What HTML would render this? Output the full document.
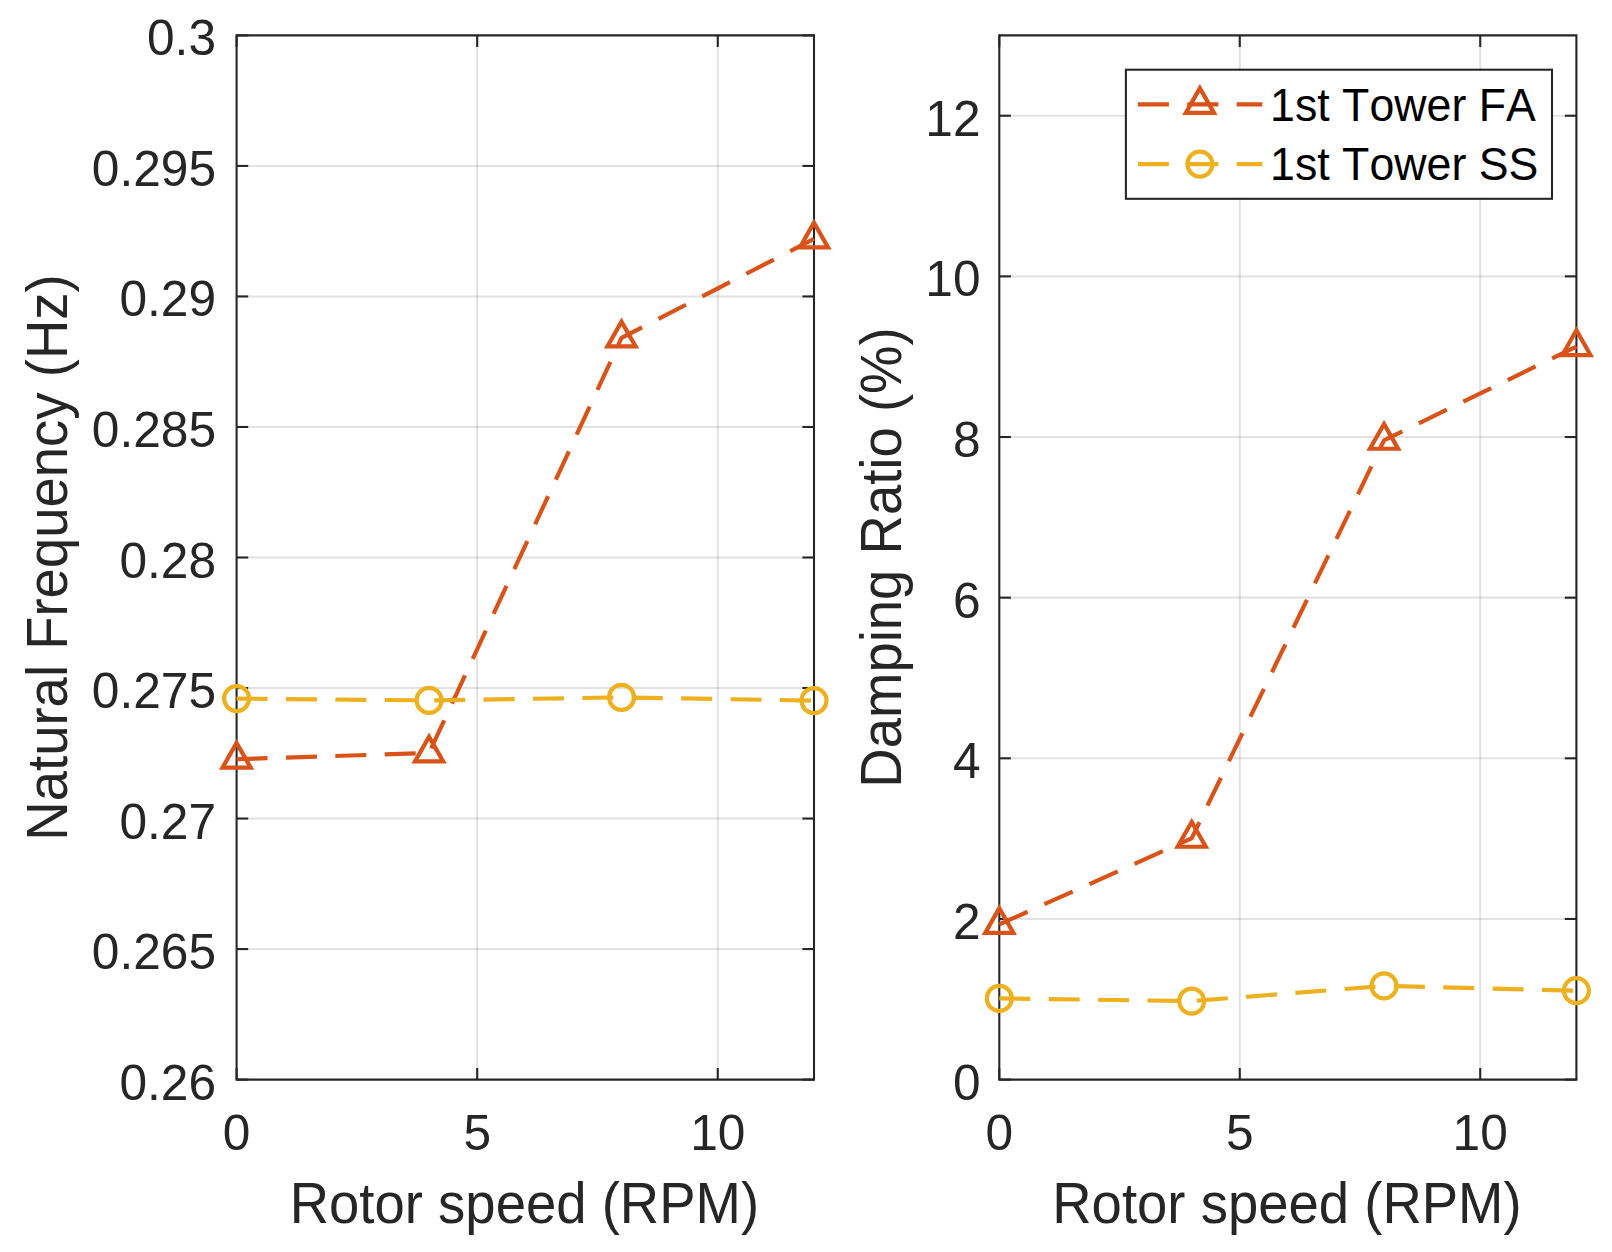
<!DOCTYPE html>
<html lang="en">
<head>
<meta charset="utf-8">
<title>Tower modes vs rotor speed</title>
<style>
html,body{margin:0;padding:0;background:#fff;}
body{width:1612px;height:1252px;overflow:hidden;}
svg{display:block;}
text{font-family:"Liberation Sans", Arial, Helvetica, sans-serif;font-kerning:none;}
.tk{font-size:50px;fill:#262626;}
.lb{font-size:55px;fill:#262626;}
.lg{font-size:45px;fill:#000;}
</style>
</head>
<body>
<svg width="1612" height="1252" viewBox="0 0 1612 1252">
<rect x="0" y="0" width="1612" height="1252" fill="#ffffff"/>
<g id="axes1">
<g stroke="#262626" stroke-opacity="0.135" stroke-width="2.08" fill="none">
<line x1="477.18" y1="35.4" x2="477.18" y2="1079.6"/>
<line x1="717.77" y1="35.4" x2="717.77" y2="1079.6"/>
<line x1="236.6" y1="949.07" x2="814" y2="949.07"/>
<line x1="236.6" y1="818.55" x2="814" y2="818.55"/>
<line x1="236.6" y1="688.02" x2="814" y2="688.02"/>
<line x1="236.6" y1="557.5" x2="814" y2="557.5"/>
<line x1="236.6" y1="426.98" x2="814" y2="426.98"/>
<line x1="236.6" y1="296.45" x2="814" y2="296.45"/>
<line x1="236.6" y1="165.93" x2="814" y2="165.93"/>
</g>
<g stroke="#262626" stroke-width="2.08" fill="none">
<path d="M236.6 35.4 H814 V1079.6"/>
<line x1="236.6" y1="35.4" x2="236.6" y2="47"/>
<line x1="477.18" y1="35.4" x2="477.18" y2="47"/>
<line x1="717.77" y1="35.4" x2="717.77" y2="47"/>
<line x1="814" y1="1079.6" x2="802.4" y2="1079.6"/>
<line x1="814" y1="949.07" x2="802.4" y2="949.07"/>
<line x1="814" y1="818.55" x2="802.4" y2="818.55"/>
<line x1="814" y1="688.02" x2="802.4" y2="688.02"/>
<line x1="814" y1="557.5" x2="802.4" y2="557.5"/>
<line x1="814" y1="426.98" x2="802.4" y2="426.98"/>
<line x1="814" y1="296.45" x2="802.4" y2="296.45"/>
<line x1="814" y1="165.93" x2="802.4" y2="165.93"/>
<line x1="814" y1="35.4" x2="802.4" y2="35.4"/>
</g>
<g stroke="#262626" stroke-width="2.08" fill="none">
<path d="M236.6 35.4 V1079.6 H814" stroke-linecap="square"/>
<line x1="236.6" y1="1079.6" x2="236.6" y2="1068"/>
<line x1="477.18" y1="1079.6" x2="477.18" y2="1068"/>
<line x1="717.77" y1="1079.6" x2="717.77" y2="1068"/>
<line x1="236.6" y1="1079.6" x2="248.2" y2="1079.6"/>
<line x1="236.6" y1="949.07" x2="248.2" y2="949.07"/>
<line x1="236.6" y1="818.55" x2="248.2" y2="818.55"/>
<line x1="236.6" y1="688.02" x2="248.2" y2="688.02"/>
<line x1="236.6" y1="557.5" x2="248.2" y2="557.5"/>
<line x1="236.6" y1="426.98" x2="248.2" y2="426.98"/>
<line x1="236.6" y1="296.45" x2="248.2" y2="296.45"/>
<line x1="236.6" y1="165.93" x2="248.2" y2="165.93"/>
<line x1="236.6" y1="35.4" x2="248.2" y2="35.4"/>
</g>
<polyline points="236.6,759.2 429.07,753 621.53,337.9 814,238.9" fill="none" stroke="#D95319" stroke-width="4.17" stroke-dasharray="31 18.4" stroke-linejoin="round"/>
<polyline points="236.6,698.6 429.07,700.4 621.53,697.4 814,700.6" fill="none" stroke="#EDB120" stroke-width="4.17" stroke-dasharray="31 18.4" stroke-linejoin="round"/>
<g fill="none" stroke="#D95319" stroke-width="4.17" stroke-linejoin="miter" stroke-miterlimit="10">
<path d="M236.6 742.9 L222.5 767.65 L250.7 767.65 Z"/>
<path d="M429.07 736.7 L414.97 761.45 L443.17 761.45 Z"/>
<path d="M621.53 321.6 L607.43 346.35 L635.63 346.35 Z"/>
<path d="M814 222.6 L799.9 247.35 L828.1 247.35 Z"/>
</g>
<g fill="none" stroke="#EDB120" stroke-width="4.17">
<circle cx="236.6" cy="698.6" r="12.5"/>
<circle cx="429.07" cy="700.4" r="12.5"/>
<circle cx="621.53" cy="697.4" r="12.5"/>
<circle cx="814" cy="700.6" r="12.5"/>
</g>
<text class="tk" text-anchor="end" transform="translate(216 1099.6) scale(0.993 1.012)">0.26</text>
<text class="tk" text-anchor="end" transform="translate(216 969.07) scale(0.993 1.012)">0.265</text>
<text class="tk" text-anchor="end" transform="translate(216 838.55) scale(0.993 1.012)">0.27</text>
<text class="tk" text-anchor="end" transform="translate(216 708.02) scale(0.993 1.012)">0.275</text>
<text class="tk" text-anchor="end" transform="translate(216 577.5) scale(0.993 1.012)">0.28</text>
<text class="tk" text-anchor="end" transform="translate(216 446.98) scale(0.993 1.012)">0.285</text>
<text class="tk" text-anchor="end" transform="translate(216 316.45) scale(0.993 1.012)">0.29</text>
<text class="tk" text-anchor="end" transform="translate(216 185.93) scale(0.993 1.012)">0.295</text>
<text class="tk" text-anchor="end" transform="translate(216 55.4) scale(0.993 1.012)">0.3</text>
<text class="tk" text-anchor="middle" transform="translate(236.6 1150.3) scale(0.993 1.012)">0</text>
<text class="tk" text-anchor="middle" transform="translate(477.18 1150.3) scale(0.993 1.012)">5</text>
<text class="tk" text-anchor="middle" transform="translate(717.77 1150.3) scale(0.993 1.012)">10</text>
<text class="lb" text-anchor="middle" transform="translate(524.4 1222.7) scale(0.991 1.045)">Rotor speed (RPM)</text>
<text class="lb" text-anchor="middle" transform="translate(67 557.5) rotate(-90) scale(0.991 1.045)">Natural Frequency (Hz)</text>
</g>
<g id="axes2">
<g stroke="#262626" stroke-opacity="0.135" stroke-width="2.08" fill="none">
<line x1="1239.76" y1="35.4" x2="1239.76" y2="1079.6"/>
<line x1="1480.22" y1="35.4" x2="1480.22" y2="1079.6"/>
<line x1="999.3" y1="918.95" x2="1576.4" y2="918.95"/>
<line x1="999.3" y1="758.31" x2="1576.4" y2="758.31"/>
<line x1="999.3" y1="597.66" x2="1576.4" y2="597.66"/>
<line x1="999.3" y1="437.02" x2="1576.4" y2="437.02"/>
<line x1="999.3" y1="276.37" x2="1576.4" y2="276.37"/>
<line x1="999.3" y1="115.72" x2="1576.4" y2="115.72"/>
</g>
<g stroke="#262626" stroke-width="2.08" fill="none">
<path d="M999.3 35.4 H1576.4 V1079.6"/>
<line x1="999.3" y1="35.4" x2="999.3" y2="47"/>
<line x1="1239.76" y1="35.4" x2="1239.76" y2="47"/>
<line x1="1480.22" y1="35.4" x2="1480.22" y2="47"/>
<line x1="1576.4" y1="1079.6" x2="1564.8" y2="1079.6"/>
<line x1="1576.4" y1="918.95" x2="1564.8" y2="918.95"/>
<line x1="1576.4" y1="758.31" x2="1564.8" y2="758.31"/>
<line x1="1576.4" y1="597.66" x2="1564.8" y2="597.66"/>
<line x1="1576.4" y1="437.02" x2="1564.8" y2="437.02"/>
<line x1="1576.4" y1="276.37" x2="1564.8" y2="276.37"/>
<line x1="1576.4" y1="115.72" x2="1564.8" y2="115.72"/>
</g>
<g stroke="#262626" stroke-width="2.08" fill="none">
<path d="M999.3 35.4 V1079.6 H1576.4" stroke-linecap="square"/>
<line x1="999.3" y1="1079.6" x2="999.3" y2="1068"/>
<line x1="1239.76" y1="1079.6" x2="1239.76" y2="1068"/>
<line x1="1480.22" y1="1079.6" x2="1480.22" y2="1068"/>
<line x1="999.3" y1="1079.6" x2="1010.9" y2="1079.6"/>
<line x1="999.3" y1="918.95" x2="1010.9" y2="918.95"/>
<line x1="999.3" y1="758.31" x2="1010.9" y2="758.31"/>
<line x1="999.3" y1="597.66" x2="1010.9" y2="597.66"/>
<line x1="999.3" y1="437.02" x2="1010.9" y2="437.02"/>
<line x1="999.3" y1="276.37" x2="1010.9" y2="276.37"/>
<line x1="999.3" y1="115.72" x2="1010.9" y2="115.72"/>
</g>
<polyline points="999.3,924.4 1191.67,838.3 1384.03,440.3 1576.4,346.6" fill="none" stroke="#D95319" stroke-width="4.17" stroke-dasharray="31 18.4" stroke-linejoin="round"/>
<polyline points="999.3,998.4 1191.67,1001.1 1384.03,985.9 1576.4,990.7" fill="none" stroke="#EDB120" stroke-width="4.17" stroke-dasharray="31 18.4" stroke-linejoin="round"/>
<g fill="none" stroke="#D95319" stroke-width="4.17" stroke-linejoin="miter" stroke-miterlimit="10">
<path d="M999.3 908.1 L985.2 932.85 L1013.4 932.85 Z"/>
<path d="M1191.67 822 L1177.57 846.75 L1205.77 846.75 Z"/>
<path d="M1384.03 424 L1369.93 448.75 L1398.13 448.75 Z"/>
<path d="M1576.4 330.3 L1562.3 355.05 L1590.5 355.05 Z"/>
</g>
<g fill="none" stroke="#EDB120" stroke-width="4.17">
<circle cx="999.3" cy="998.4" r="12.5"/>
<circle cx="1191.67" cy="1001.1" r="12.5"/>
<circle cx="1384.03" cy="985.9" r="12.5"/>
<circle cx="1576.4" cy="990.7" r="12.5"/>
</g>
<text class="tk" text-anchor="end" transform="translate(980.5 1099.6) scale(0.993 1.012)">0</text>
<text class="tk" text-anchor="end" transform="translate(980.5 938.95) scale(0.993 1.012)">2</text>
<text class="tk" text-anchor="end" transform="translate(980.5 778.31) scale(0.993 1.012)">4</text>
<text class="tk" text-anchor="end" transform="translate(980.5 617.66) scale(0.993 1.012)">6</text>
<text class="tk" text-anchor="end" transform="translate(980.5 457.02) scale(0.993 1.012)">8</text>
<text class="tk" text-anchor="end" transform="translate(980.5 296.37) scale(0.993 1.012)">10</text>
<text class="tk" text-anchor="end" transform="translate(980.5 135.72) scale(0.993 1.012)">12</text>
<text class="tk" text-anchor="middle" transform="translate(999.3 1150.3) scale(0.993 1.012)">0</text>
<text class="tk" text-anchor="middle" transform="translate(1239.76 1150.3) scale(0.993 1.012)">5</text>
<text class="tk" text-anchor="middle" transform="translate(1480.22 1150.3) scale(0.993 1.012)">10</text>
<text class="lb" text-anchor="middle" transform="translate(1286.95 1222.7) scale(0.991 1.045)">Rotor speed (RPM)</text>
<text class="lb" text-anchor="middle" transform="translate(900.7 557.5) rotate(-90) scale(0.991 1.045)">Damping Ratio (%)</text>
</g>
<g id="legend">
<rect x="1125.9" y="69.7" width="426.1" height="129.1" fill="#ffffff" stroke="#262626" stroke-width="2.08"/>
<line x1="1137.9" y1="104.4" x2="1262.3" y2="104.4" stroke="#D95319" stroke-width="4.17" stroke-dasharray="31 18.4"/>
<path d="M1199.9 88.1 L1185.8 112.85 L1214 112.85 Z" fill="none" stroke="#D95319" stroke-width="4.17" stroke-miterlimit="10"/>
<text class="lg" transform="translate(1270.1 120.7) scale(0.9934 1.03)">1st Tower FA</text>
<line x1="1137.9" y1="164.1" x2="1262.3" y2="164.1" stroke="#EDB120" stroke-width="4.17" stroke-dasharray="31 18.4"/>
<circle cx="1199.9" cy="164.1" r="12.5" fill="none" stroke="#EDB120" stroke-width="4.17"/>
<text class="lg" transform="translate(1270.1 180.2) scale(0.9934 1.03)">1st Tower SS</text>
</g>
</svg>
</body>
</html>
